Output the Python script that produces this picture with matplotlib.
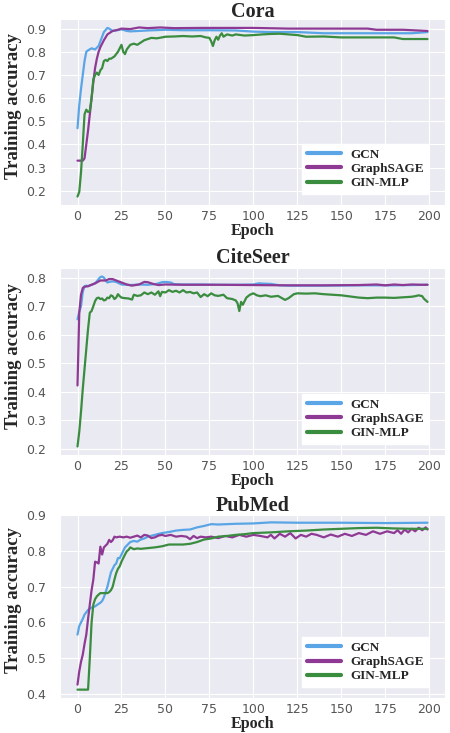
import matplotlib
matplotlib.use("Agg")
import matplotlib.pyplot as plt
from matplotlib.ticker import MultipleLocator
import seaborn as sns

sns.set_style("darkgrid")
plt.rcParams["font.family"] = ["DejaVu Sans"]

series_names = ["GCN", "GraphSAGE", "GIN-MLP"]
panel_titles = ["Cora", "CiteSeer", "PubMed"]
x_label = "Epoch"
y_label = "Training accuracy"
x_ticks = [0, 25, 50, 75, 100, 125, 150, 175, 200]
y_tick_step = 0.1

# ---------------- Cora ----------------
cora_gcn_ep = [0, 1, 2, 3, 4, 5, 6, 8, 10, 12, 13, 15, 17, 18, 20, 22, 25, 28, 30, 35,
               40, 50, 60, 75, 90, 100, 110, 125, 140, 150, 175, 190, 199]
cora_gcn = [0.47, 0.57, 0.64, 0.70, 0.76, 0.80, 0.806, 0.815, 0.81, 0.825,
            0.845, 0.885, 0.903, 0.90, 0.89, 0.892, 0.897, 0.89, 0.888, 0.89,
            0.892, 0.895, 0.893, 0.893, 0.892, 0.887, 0.885, 0.885, 0.88, 0.88,
            0.88, 0.88, 0.885]

cora_sage_ep = [0, 1, 2, 3, 4, 5, 6, 7, 8, 9, 10, 11, 12, 13, 15, 17, 20, 23, 25, 30,
                35, 40, 47, 55, 70, 85, 100, 120, 150, 165, 170, 185, 199]
cora_sage = [0.33, 0.33, 0.33, 0.33, 0.34, 0.40, 0.46, 0.53, 0.60, 0.67,
             0.73, 0.77, 0.80, 0.82, 0.85, 0.875, 0.89, 0.895, 0.90, 0.898,
             0.905, 0.902, 0.905, 0.902, 0.903, 0.903, 0.903, 0.90, 0.90, 0.90,
             0.895, 0.895, 0.89]

cora_gin_ep = [0, 1, 2, 3, 4, 5, 6, 7, 8, 9,
               10, 11, 12, 13, 14, 15, 16, 17, 18, 19,
               20, 21, 22, 23, 24, 25, 26, 27, 28, 30,
               32, 34, 36, 38, 40, 42, 45, 48, 50, 55,
               60, 65, 70, 73, 75, 76, 77, 78, 79, 80,
               81, 82, 83, 85, 88, 90, 95, 100, 105, 110,
               115, 120, 125, 130, 140, 150, 160, 170, 180, 185,
               190, 199]
cora_gin = [0.175, 0.195, 0.28, 0.40, 0.53, 0.55, 0.54, 0.545, 0.60, 0.68,
            0.70, 0.71, 0.70, 0.72, 0.73, 0.76, 0.765, 0.76, 0.77, 0.77,
            0.775, 0.78, 0.79, 0.80, 0.815, 0.83, 0.80, 0.79, 0.81, 0.83,
            0.835, 0.83, 0.84, 0.85, 0.855, 0.86, 0.858, 0.862, 0.865, 0.866,
            0.868, 0.866, 0.868, 0.862, 0.86, 0.845, 0.825, 0.85, 0.865, 0.852,
            0.87, 0.88, 0.865, 0.875, 0.87, 0.875, 0.87, 0.872, 0.875, 0.877,
            0.878, 0.875, 0.872, 0.865, 0.866, 0.862, 0.862, 0.862, 0.862, 0.855,
            0.855, 0.855]

# ---------------- CiteSeer ----------------
cite_gcn_ep = [0, 1, 2, 3, 4, 5, 6, 8, 10, 11,
               12, 13, 14, 15, 16, 17, 18, 20, 22, 25,
               28, 30, 35, 40, 45, 48, 50, 53, 55, 60,
               70, 80, 90, 100, 103, 106, 110, 115, 120, 140,
               160, 180, 199]
cite_gcn = [0.654, 0.68, 0.70, 0.75, 0.77, 0.772, 0.77, 0.775, 0.78, 0.787,
            0.795, 0.802, 0.804, 0.80, 0.79, 0.783, 0.785, 0.787, 0.785, 0.776,
            0.775, 0.774, 0.776, 0.775, 0.778, 0.784, 0.785, 0.783, 0.777, 0.776,
            0.776, 0.775, 0.775, 0.776, 0.78, 0.779, 0.778, 0.773, 0.772, 0.772,
            0.773, 0.773, 0.775]

cite_sage_ep = [0, 1, 2, 3, 4, 6, 8, 10, 13, 16,
                18, 20, 22, 25, 28, 31, 35, 38, 40, 43,
                46, 50, 60, 80, 100, 120, 140, 160, 170, 175,
                180, 185, 190, 195, 199]
cite_sage = [0.422, 0.677, 0.74, 0.764, 0.768, 0.77, 0.775, 0.78, 0.79, 0.79,
             0.795, 0.795, 0.79, 0.783, 0.776, 0.772, 0.776, 0.785, 0.784, 0.778,
             0.774, 0.776, 0.775, 0.775, 0.774, 0.773, 0.773, 0.774, 0.776, 0.773,
             0.776, 0.774, 0.776, 0.775, 0.775]

cite_gin_ep = [0, 1, 2, 3, 4, 5, 6, 7, 8, 9,
               10, 11, 12, 13, 14, 15, 16, 17, 18, 19,
               20, 21, 22, 23, 24, 25, 27, 29, 31, 32,
               34, 36, 38, 40, 42, 44, 46, 47, 48, 50,
               52, 54, 56, 58, 60, 62, 64, 66, 68, 70,
               72, 74, 76, 78, 80, 83, 85, 88, 90, 91,
               92, 93, 94, 96, 98, 100, 102, 104, 107, 110,
               114, 118, 120, 123, 125, 130, 135, 140, 145, 150,
               155, 160, 165, 170, 175, 180, 185, 190, 192, 194,
               196, 197, 199]
cite_gin = [0.208, 0.26, 0.33, 0.41, 0.48, 0.55, 0.62, 0.677, 0.683, 0.70,
            0.718, 0.728, 0.73, 0.725, 0.727, 0.72, 0.722, 0.73, 0.728, 0.738,
            0.735, 0.725, 0.73, 0.742, 0.735, 0.73, 0.728, 0.727, 0.723, 0.74,
            0.736, 0.738, 0.748, 0.742, 0.748, 0.74, 0.752, 0.735, 0.75, 0.748,
            0.756, 0.75, 0.754, 0.748, 0.756, 0.748, 0.75, 0.745, 0.748, 0.732,
            0.742, 0.735, 0.745, 0.738, 0.736, 0.74, 0.728, 0.725, 0.72, 0.71,
            0.683, 0.715, 0.705, 0.73, 0.74, 0.745, 0.738, 0.735, 0.738, 0.733,
            0.736, 0.722, 0.728, 0.742, 0.745, 0.744, 0.745, 0.742, 0.74, 0.738,
            0.734, 0.73, 0.728, 0.73, 0.73, 0.729, 0.731, 0.733, 0.735, 0.738,
            0.735, 0.726, 0.715]

# ---------------- PubMed ----------------
pub_gcn_ep = [0, 1, 2, 3, 4, 6, 8, 10, 12, 13,
              14, 15, 16, 17, 18, 19, 20, 21, 22, 23,
              24, 25, 26, 27, 28, 29, 30, 32, 34, 36,
              38, 40, 44, 48, 52, 56, 60, 64, 68, 72,
              76, 80, 90, 100, 110, 125, 150, 175, 199]
pub_gcn = [0.566, 0.59, 0.60, 0.61, 0.622, 0.635, 0.642, 0.645, 0.652, 0.655,
           0.66, 0.67, 0.685, 0.70, 0.72, 0.74, 0.75, 0.76, 0.765, 0.78,
           0.78, 0.79, 0.80, 0.81, 0.815, 0.82, 0.825, 0.828, 0.826, 0.832,
           0.835, 0.84, 0.845, 0.85, 0.853, 0.857, 0.859, 0.86, 0.866, 0.87,
           0.875, 0.874, 0.876, 0.877, 0.88, 0.879, 0.879, 0.878, 0.879]

pub_sage_ep = [0, 1, 2, 3, 4, 5, 6, 7, 8, 9,
               10, 11, 12, 13, 14, 15, 16, 17, 18, 19,
               20, 21, 22, 24, 26, 28, 30, 32, 34, 36,
               38, 40, 42, 44, 46, 48, 50, 53, 56, 59,
               62, 64, 66, 68, 70, 73, 76, 80, 84, 88,
               92, 96, 100, 104, 108, 110, 112, 115, 118, 121,
               124, 127, 130, 133, 136, 140, 144, 148, 152, 156,
               160, 164, 168, 172, 176, 180, 182, 184, 186, 188,
               190, 192, 194, 196, 198, 199]
pub_sage = [0.426, 0.463, 0.49, 0.51, 0.54, 0.566, 0.61, 0.65, 0.69, 0.72,
            0.77, 0.768, 0.765, 0.812, 0.79, 0.81, 0.815, 0.82, 0.831, 0.825,
            0.83, 0.84, 0.838, 0.84, 0.838, 0.84, 0.837, 0.84, 0.843, 0.838,
            0.845, 0.843, 0.836, 0.838, 0.843, 0.845, 0.842, 0.845, 0.84, 0.842,
            0.84, 0.833, 0.842, 0.836, 0.84, 0.838, 0.84, 0.836, 0.842, 0.838,
            0.845, 0.84, 0.845, 0.842, 0.838, 0.845, 0.835, 0.848, 0.84, 0.85,
            0.835, 0.845, 0.84, 0.848, 0.845, 0.838, 0.846, 0.84, 0.848, 0.842,
            0.85, 0.845, 0.855, 0.848, 0.855, 0.85, 0.858, 0.848, 0.86, 0.852,
            0.862, 0.855, 0.865, 0.858, 0.866, 0.86]

pub_gin_ep = [0, 6, 7, 8, 9, 10, 11, 12, 13, 15,
              17, 18, 19, 20, 21, 22, 23, 24, 25, 26,
              27, 28, 29, 30, 32, 34, 36, 40, 44, 48,
              52, 56, 60, 64, 68, 72, 76, 80, 85, 90,
              95, 100, 110, 120, 130, 140, 150, 160, 170, 180,
              190, 199]
pub_gin = [0.412, 0.412, 0.50, 0.60, 0.65, 0.665, 0.673, 0.678, 0.682, 0.682,
           0.682, 0.685, 0.69, 0.70, 0.72, 0.738, 0.75, 0.757, 0.77, 0.78,
           0.79, 0.799, 0.803, 0.81, 0.805, 0.807, 0.806, 0.808, 0.81, 0.813,
           0.818, 0.818, 0.818, 0.82, 0.825, 0.832, 0.835, 0.84, 0.842, 0.845,
           0.847, 0.85, 0.852, 0.855, 0.857, 0.86, 0.862, 0.864, 0.865, 0.863,
           0.862, 0.862]

colors = ["#5aa5e6", "#8e3a94", "#3a8c3f"]

panels = [
    [(cora_gcn_ep, cora_gcn), (cora_sage_ep, cora_sage), (cora_gin_ep, cora_gin)],
    [(cite_gcn_ep, cite_gcn), (cite_sage_ep, cite_sage), (cite_gin_ep, cite_gin)],
    [(pub_gcn_ep, pub_gcn), (pub_sage_ep, pub_sage), (pub_gin_ep, pub_gin)],
]

# axes rectangles in figure pixels: (left, top, right, bottom)
W, H = 450, 733
rects_px = [(60, 19, 445, 205), (60, 268, 445, 455), (60, 514, 445, 698)]
title_pads = [1.5, 3.5, 2.0]

serif_bold = dict(family=["Liberation Serif", "DejaVu Serif"], weight="bold")

fig = plt.figure(figsize=(W / 100, H / 100), dpi=100)
for (l, t, r, b), series, title, tpad in zip(rects_px, panels, panel_titles, title_pads):
    ax = fig.add_axes([l / W, 1 - b / H, (r - l) / W, (b - t) / H])
    for (ep, vals), name, c in zip(series, series_names, colors):
        ax.plot(ep, vals, color=c, lw=1.6, label=name)
    ax.set_xticks(x_ticks)
    ax.yaxis.set_major_locator(MultipleLocator(y_tick_step))
    ax.tick_params(axis="y", labelsize=9, length=0, pad=10, colors="#555555")
    ax.tick_params(axis="x", labelsize=9, length=0, pad=3.5, colors="#555555")
    ax.set_title(title, fontsize=14.5, pad=tpad, **serif_bold)
    ax.set_xlabel(x_label, fontsize=11.5, va="top", **serif_bold)
    ax.set_ylabel(y_label, fontsize=13.5, **serif_bold)
    ax.xaxis.set_label_coords(0.5, -(18.0 / (b - t)))
    ax.yaxis.set_label_coords(-(38 / (r - l)), 0.53)
    leg = ax.legend(loc="lower right", bbox_to_anchor=(0.957, 0.06), borderaxespad=0,
                    prop=dict(family=["Liberation Serif", "DejaVu Serif"], weight="bold", size=9.5),
                    frameon=True, facecolor="white", edgecolor="white", framealpha=1,
                    fancybox=False, labelspacing=0.15, borderpad=0.35,
                    handlelength=2.6, handletextpad=0.7)
    for h in leg.get_lines():
        h.set_linewidth(3)

fig.savefig("out.png", dpi=100)
